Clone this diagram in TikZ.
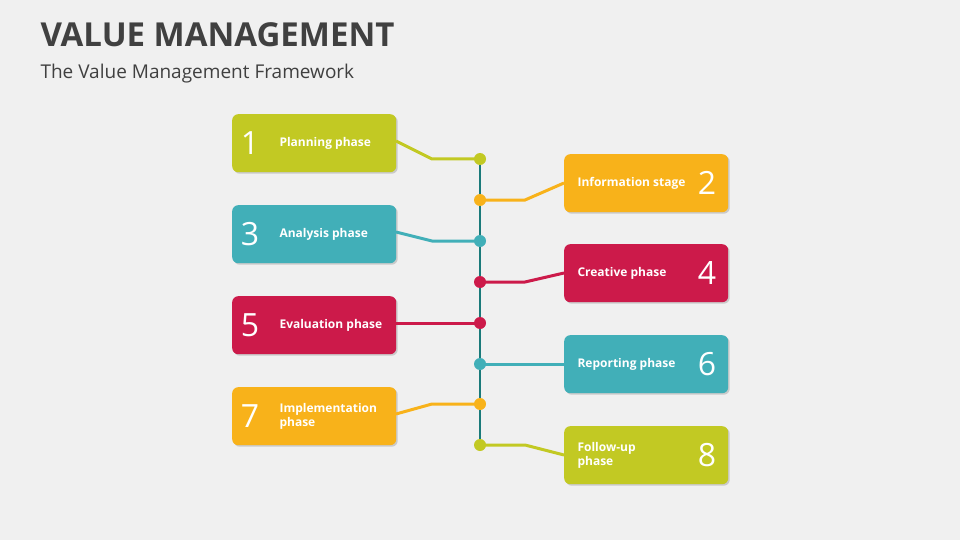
\documentclass[tikz,border=0pt]{standalone}
\usepackage{fontspec}
\setmainfont{Open Sans}
\usetikzlibrary{shadows}
\definecolor{cg}{HTML}{C2C923}
\definecolor{co}{HTML}{F8B21A}
\definecolor{ct}{HTML}{41AFB8}
\definecolor{cr}{HTML}{CC1A4A}
\definecolor{axis}{HTML}{1A7A7A}
\definecolor{tt}{HTML}{404040}
\begin{document}
\begin{tikzpicture}[x=1pt,y=-1pt,
  box/.style={fill=#1,rounded corners=6pt,minimum width=164pt,minimum height=58pt,anchor=north west,drop shadow={shadow xshift=1.5pt,shadow yshift=-1.5pt,fill=black!35,opacity=0.5}},
  num/.style={text=white,font=\fontsize{32}{32}\selectfont},
  lab/.style={text=white,font=\bfseries\fontsize{12}{14}\selectfont,align=left},
  conn/.style={draw=#1,line width=3pt},
  dot/.style={circle,fill=#1,inner sep=0pt,minimum size=12pt}]
\fill[gray!12] (0,0) rectangle (960,540);
\useasboundingbox (0,0) rectangle (960,540);
\node[anchor=west,text=tt,font=\bfseries\fontsize{33}{36}\selectfont] (title) at (37,35) {VALUE MANAGEMENT};
\node[anchor=west,text=tt,font=\fontsize{19}{22}\selectfont] (sub) at (37,74) {The Value Management Framework};
\draw[axis,line width=2.5pt] (480,159) -- (480,445);
% left boxes
\foreach \n/\y/\dy/\c/\t in {1/114/159/cg/Planning phase,3/205/241/ct/Analysis phase,5/296/323/cr/Evaluation phase,7/387/404/co/{Implementation\\phase}}{
  \node[box=\c] (b\n) at (232,\y) {};
  \draw[conn=\c] (396,\y+27) -- (432,\dy) -- (480,\dy);
  \node[dot=\c] (d\n) at (480,\dy) {};
  \node[num] (n\n) at (250,\y+29) {\n};
  \node[lab,anchor=west] (l\n) at (276,\y+29) {\t};
}
% right boxes
\foreach \n/\y/\dy/\c/\t in {2/154/200/co/Information stage,4/244/282/cr/Creative phase,6/335/364/ct/Reporting phase,8/426/445/cg/{Follow-up\\phase}}{
  \node[box=\c] (b\n) at (564,\y) {};
  \draw[conn=\c] (564,\y+29) -- (525,\dy) -- (480,\dy);
  \node[dot=\c] (d\n) at (480,\dy) {};
  \node[num] (n\n) at (707,\y+29) {\n};
  \node[lab,anchor=west] (l\n) at (574,\y+29) {\t};
}
\end{tikzpicture}
\end{document}
